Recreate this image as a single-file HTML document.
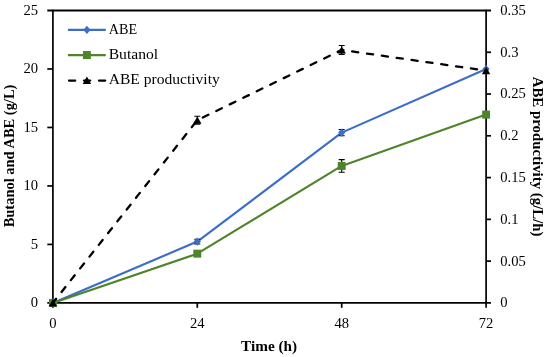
<!DOCTYPE html><html><head><meta charset="utf-8"><title>Chart</title><style>html,body{margin:0;padding:0;background:#fff}</style></head><body><svg width="550" height="357" viewBox="0 0 550 357" style="display:block">
<rect width="550" height="357" fill="#fff"/>
<g font-family="'Liberation Serif', serif" font-size="14.2" fill="#000">
<g stroke="#000" stroke-width="1.7" fill="none">
<path d="M47.30 10.55H491.00" stroke-width="1.95"/>
<path d="M47.30 302.9H491.00"/>
<path d="M52.9 9.65V307.80"/>
<path d="M486.1 9.65V307.80"/>
<path d="M47.30 244.42H52.9"/>
<path d="M47.30 185.94H52.9"/>
<path d="M47.30 127.46H52.9"/>
<path d="M47.30 68.98H52.9"/>
<path d="M486.1 261.13H491.00"/>
<path d="M486.1 219.36H491.00"/>
<path d="M486.1 177.59H491.00"/>
<path d="M486.1 135.81H491.00"/>
<path d="M486.1 94.04H491.00"/>
<path d="M486.1 52.27H491.00"/>
<path d="M197.30 302.9V307.80"/>
<path d="M341.70 302.9V307.80"/>
</g>
<text transform="translate(38.00,307.30) scale(1.03,1)" text-anchor="end">0</text>
<text transform="translate(38.00,248.82) scale(1.03,1)" text-anchor="end">5</text>
<text transform="translate(38.00,190.34) scale(1.03,1)" text-anchor="end">10</text>
<text transform="translate(38.00,131.86) scale(1.03,1)" text-anchor="end">15</text>
<text transform="translate(38.00,73.38) scale(1.03,1)" text-anchor="end">20</text>
<text transform="translate(38.00,14.90) scale(1.03,1)" text-anchor="end">25</text>
<text transform="translate(500.20,307.30) scale(1.03,1)">0</text>
<text transform="translate(500.20,265.53) scale(1.03,1)">0.05</text>
<text transform="translate(500.20,223.76) scale(1.03,1)">0.1</text>
<text transform="translate(500.20,181.99) scale(1.03,1)">0.15</text>
<text transform="translate(500.20,140.21) scale(1.03,1)">0.2</text>
<text transform="translate(500.20,98.44) scale(1.03,1)">0.25</text>
<text transform="translate(500.20,56.67) scale(1.03,1)">0.3</text>
<text transform="translate(500.20,14.90) scale(1.03,1)">0.35</text>
<text transform="translate(52.90,328.00) scale(1.03,1)" text-anchor="middle">0</text>
<text transform="translate(197.30,328.00) scale(1.03,1)" text-anchor="middle">24</text>
<text transform="translate(341.70,328.00) scale(1.03,1)" text-anchor="middle">48</text>
<text transform="translate(486.10,328.00) scale(1.03,1)" text-anchor="middle">72</text>
<text transform="translate(269.10,351.20) scale(1.075,1)" text-anchor="middle" font-weight="bold">Time (h)</text>
<text transform="translate(14.30,156.00) rotate(-90) scale(1.02,1)" text-anchor="middle" font-weight="bold">Butanol and ABE (g/L)</text>
<text transform="translate(533.40,156.60) rotate(90) scale(1.047,1)" text-anchor="middle" font-weight="bold">ABE productivity (g/L/h)</text>
<polyline points="52.90,302.90 197.30,241.61 341.70,132.61 486.10,68.98" fill="none" stroke="#3d6dc6" stroke-width="2.15" stroke-linejoin="round"/>
<path d="M52.90 298.80l3.6 4.1l-3.6 4.1l-3.6 -4.1z" fill="#3d6dc6"/>
<path d="M197.30 239.27V243.95M194.30 239.27h6M194.30 243.95h6" stroke="#000" stroke-width="1.1" fill="none"/>
<path d="M197.30 237.51l3.6 4.1l-3.6 4.1l-3.6 -4.1z" fill="#3d6dc6"/>
<path d="M341.70 129.45V135.76M338.70 129.45h6M338.70 135.76h6" stroke="#000" stroke-width="1.1" fill="none"/>
<path d="M341.70 128.51l3.6 4.1l-3.6 4.1l-3.6 -4.1z" fill="#3d6dc6"/>
<path d="M486.10 64.88l3.6 4.1l-3.6 4.1l-3.6 -4.1z" fill="#3d6dc6"/>
<polyline points="52.90,302.90 197.30,253.66 341.70,165.94 486.10,114.59" fill="none" stroke="#4e842b" stroke-width="2.15" stroke-linejoin="round"/>
<rect x="48.95" y="298.90" width="7.9" height="8.0" fill="#4e842b"/>
<path d="M197.30 252.26V255.06M194.30 252.26h6M194.30 255.06h6" stroke="#000" stroke-width="1.1" fill="none"/>
<rect x="193.35" y="249.66" width="7.9" height="8.0" fill="#4e842b"/>
<path d="M341.70 159.62V172.26M338.70 159.62h6M338.70 172.26h6" stroke="#000" stroke-width="1.1" fill="none"/>
<rect x="337.75" y="161.94" width="7.9" height="8.0" fill="#4e842b"/>
<path d="M486.10 111.67V117.52M483.10 111.67h6M483.10 117.52h6" stroke="#000" stroke-width="1.1" fill="none"/>
<rect x="482.15" y="110.59" width="7.9" height="8.0" fill="#4e842b"/>
<polyline points="52.90,302.90 197.30,120.19 341.70,49.93 486.10,70.65" fill="none" stroke="#000" stroke-width="2.3" stroke-dasharray="6.2 8.8" stroke-linecap="round" stroke-dashoffset="1"/>
<path d="M52.90 299.10l4.2 7.3h-8.4z" fill="#000"/>
<path d="M197.30 116.27V124.12M194.30 116.27h6M194.30 124.12h6" stroke="#000" stroke-width="1.1" fill="none"/>
<path d="M197.30 116.39l4.2 7.3h-8.4z" fill="#000"/>
<path d="M341.70 45.50V54.36M338.70 45.50h6M338.70 54.36h6" stroke="#000" stroke-width="1.1" fill="none"/>
<path d="M341.70 46.13l4.2 7.3h-8.4z" fill="#000"/>
<path d="M486.10 66.85l4.2 7.3h-8.4z" fill="#000"/>
<path d="M67.9 29.9H105.8" stroke="#3d6dc6" stroke-width="2.15"/>
<path d="M86.90 25.80l3.6 4.1l-3.6 4.1l-3.6 -4.1z" fill="#3d6dc6"/>
<text transform="translate(108.70,33.90)">ABE</text>
<path d="M67.9 55.05H105.8" stroke="#4e842b" stroke-width="2.15"/>
<rect x="82.95" y="51.05" width="7.9" height="8.0" fill="#4e842b"/>
<text transform="translate(108.70,58.80) scale(1.1,1)">Butanol</text>
<path d="M69.0 80.6H105.8" stroke="#000" stroke-width="2.3" stroke-dasharray="6.2 8.8" stroke-linecap="round"/>
<path d="M86.90 76.60l4.2 7.3h-8.4z" fill="#000"/>
<text transform="translate(108.70,83.80) scale(1.097,1)">ABE productivity</text>
</g></svg></body></html>
